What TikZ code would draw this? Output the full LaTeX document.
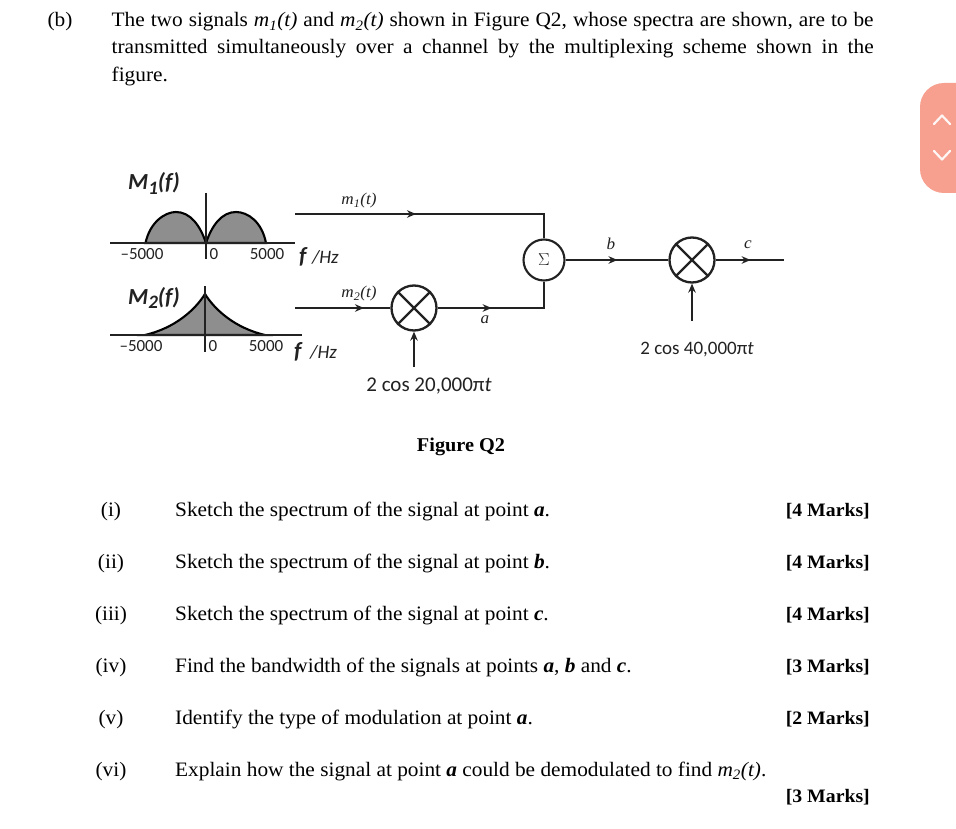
\documentclass[tikz,border=0pt]{standalone}
\usepackage{fontspec}
\setmainfont[FakeStretch=1.04]{Liberation Serif}
\newfontfamily\calib{Carlito}
\usetikzlibrary{arrows.meta,decorations.markings}
\definecolor{pill}{HTML}{F7A08F}
\definecolor{ink}{HTML}{222222}
\definecolor{shade}{HTML}{8E8E8E}
\newcommand{\bodysize}{\fontsize{20.5}{24}\selectfont}
\tikzset{
  body/.style={anchor=base west,inner sep=0,font=\bodysize,text=black},
  num/.style={anchor=base,inner sep=0,font=\bodysize,text=black},
  marks/.style={anchor=base east,inner sep=0,font=\fontsize{19}{22}\selectfont\bfseries,text=black},
  sigtxt/.style={inner sep=0,font=\fontsize{16.5}{18}\selectfont\itshape,text=ink},
  axtxt/.style={inner sep=0,font=\calib\fontsize{17}{20}\selectfont,text=ink},
  cartxt/.style={inner sep=0,font=\calib\fontsize{21}{24}\selectfont,text=ink},
  cartxtb/.style={inner sep=0,font=\calib\fontsize{19}{22}\selectfont,text=ink},
  spec/.style={inner sep=0,font=\calib\fontsize{23}{26}\selectfont\bfseries\itshape,text=ink},
  fhz/.style={inner sep=0,font=\calib\fontsize{19}{22}\selectfont,text=ink},
  axisline/.style={draw=ink,line width=1.5pt},
  lobe/.style={draw=black,line width=2.1pt,fill=shade},
  wire/.style={draw=ink,line width=1.6pt},
  midarrow/.style={postaction={decorate},decoration={markings,mark=at position #1 with {\arrow{Stealth[length=9pt,width=7.5pt]}}}},
  mixer/.style={circle,draw=ink,line width=2.3pt,minimum size=45pt,inner sep=0,fill=white},
  summer/.style={circle,draw=ink,line width=2.1pt,minimum size=41pt,inner sep=0,fill=white,font=\fontsize{17}{20}\selectfont,text=ink},
  chev/.style={draw=white!90!pill,line width=2.2pt,line cap=round,line join=round}
}
\begin{document}
\begin{tikzpicture}[x=1pt,y=-1pt]
\useasboundingbox (0,0) rectangle (956,829);
\fill[white] (0,0) rectangle (956,829);
% heading
\node[num] (hb) at (60,27) {(b)};
\node[body] (l1) at (111.5,27) {\makebox[762pt][s]{The two signals \textit{m\textsubscript{1}(t)} and \textit{m\textsubscript{2}(t)} shown in Figure Q2, whose spectra are shown, are to be}};
\node[body] (l2) at (111.5,54) {\makebox[762pt][s]{transmitted simultaneously over a channel by the multiplexing scheme shown in the}};
\node[body] (l3) at (111.5,82) {figure.};
% side pill
\fill[pill] (956,83) -- (944,83) arc[start angle=-90,end angle=-180,x radius=24pt,y radius=-24pt] -- (920,169) arc[start angle=180,end angle=90,x radius=24pt,y radius=-24pt] -- (956,193) -- cycle;
\draw[chev] (934,124) -- (942,115.5) -- (950,124);
\draw[chev] (934,151) -- (942,159.5) -- (950,151);
% M1 spectrum
\coordinate (a1l) at (110,243); \coordinate (a1r) at (295,243);
\coordinate (v1t) at (206,193); \coordinate (v1b) at (206,259);
\path[lobe] (145.5,243) .. controls (150,222) and (165,212) .. (176,212) .. controls (190,212) and (200,225) .. (206,243) .. controls (212,225) and (222,212) .. (236,212) .. controls (248,212) and (262,222) .. (266,243) -- cycle;
\draw[axisline] (a1l) -- (a1r);
\draw[axisline] (v1t) -- (v1b);
\node[spec,anchor=base west] (m1f) at (128,190) {M\raisebox{-5pt}{\fontsize{19}{20}\selectfont 1}(f)};
\node[axtxt] (t11) at (142,254) {–5000};
\node[axtxt] (t12) at (214,254) {0};
\node[axtxt] (t13) at (267,254) {5000};
\node[fhz,anchor=base west] (f1) at (299,263) {{\fontsize{23}{24}\selectfont\textbf{\textit{f}}} \textit{/Hz}};
% M2 spectrum
\coordinate (a2l) at (110,335); \coordinate (a2r) at (302,335);
\coordinate (v2t) at (205,286); \coordinate (v2b) at (205,352);
\path[lobe] (145,335) .. controls (175,328) and (195,310) .. (205,294) .. controls (215,310) and (235,328) .. (265,335) -- cycle;
\draw[axisline] (a2l) -- (a2r);
\draw[axisline] (v2t) -- (v2b);
\node[spec,anchor=base west] (m2f) at (128,304) {M\raisebox{-5pt}{\fontsize{19}{20}\selectfont 2}(f)};
\node[axtxt] (t21) at (141,346) {–5000};
\node[axtxt] (t22) at (213,346) {0};
\node[axtxt] (t23) at (266,346) {5000};
\node[fhz,anchor=base west] (f2) at (294,358) {{\fontsize{23}{24}\selectfont\textbf{\textit{f}}}\, \textit{/Hz}};
% block diagram
\node[summer] (sum) at (544,260) {$\Sigma$};
\node[mixer] (mx1) at (414,308) {};
\node[mixer] (mx2) at (692,260) {};
\draw[ink,line width=2.3pt] (mx1.45) -- (mx1.225) (mx1.135) -- (mx1.315);
\draw[ink,line width=2.3pt] (mx2.45) -- (mx2.225) (mx2.135) -- (mx2.315);
\coordinate (m1in) at (295,214);
\coordinate (m2in) at (295,308);
\coordinate (cin1) at (414,367);
\coordinate (cin2) at (692,321);
\coordinate (cout) at (784,260);
\coordinate (mxa) at (544,308);
\path[wire,midarrow=121pt] (m1in) -| (sum.north);
\path[wire,midarrow=69pt] (m2in) -- (mx1.west);
\path[wire,midarrow=54pt] (mx1.east) -- (mxa) -- (sum.south);
\path[wire,midarrow=52pt] (sum.east) -- (mx2.west);
\path[wire,midarrow=35pt] (mx2.east) -- (cout);
\draw[wire,-{Stealth[length=9pt,width=7.5pt]}] (cin1) -- (mx1.south);
\draw[wire,-{Stealth[length=9pt,width=7.5pt]}] (cin2) -- (mx2.south);
\node[sigtxt] (lm1) at (359,201) {m\textsubscript{1}(t)};
\node[sigtxt] (lm2) at (359,294) {m\textsubscript{2}(t)};
\node[sigtxt] (la) at (485,320) {a};
\node[sigtxt] (lb) at (611,244) {b};
\node[sigtxt] (lc) at (748,245) {c};
\node[cartxt] (c1) at (429,386) {2 cos 20,000π\textit{t}};
\node[cartxtb] (c2) at (697,350) {2 cos 40,000π\textit{t}};
\node[anchor=base,inner sep=0,font=\fontsize{19.5}{22}\selectfont\bfseries] (fig) at (461,451) {Figure Q2};
% questions
\node[num] (n1) at (111,516) {(i)};
\node[body] (q1) at (175,516) {Sketch the spectrum of the signal at point \textbf{\textit{a}}.};
\node[marks] (k1) at (870,516) {[4 Marks]};
\node[num] (n2) at (111,568) {(ii)};
\node[body] (q2) at (175,568) {Sketch the spectrum of the signal at point \textbf{\textit{b}}.};
\node[marks] (k2) at (870,568) {[4 Marks]};
\node[num] (n3) at (111,620) {(iii)};
\node[body] (q3) at (175,620) {Sketch the spectrum of the signal at point \textbf{\textit{c}}.};
\node[marks] (k3) at (870,620) {[4 Marks]};
\node[num] (n4) at (111,672) {(iv)};
\node[body] (q4) at (175,672) {Find the bandwidth of the signals at points \textbf{\textit{a}}, \textbf{\textit{b}} and \textbf{\textit{c}}.};
\node[marks] (k4) at (870,672) {[3 Marks]};
\node[num] (n5) at (111,724) {(v)};
\node[body] (q5) at (175,724) {Identify the type of modulation at point \textbf{\textit{a}}.};
\node[marks] (k5) at (870,724) {[2 Marks]};
\node[num] (n6) at (111,776) {(vi)};
\node[body] (q6) at (175,776) {Explain how the signal at point \textbf{\textit{a}} could be demodulated to find \textit{m\textsubscript{2}(t)}.};
\node[marks] (k6) at (870,802) {[3 Marks]};
\end{tikzpicture}
\end{document}
